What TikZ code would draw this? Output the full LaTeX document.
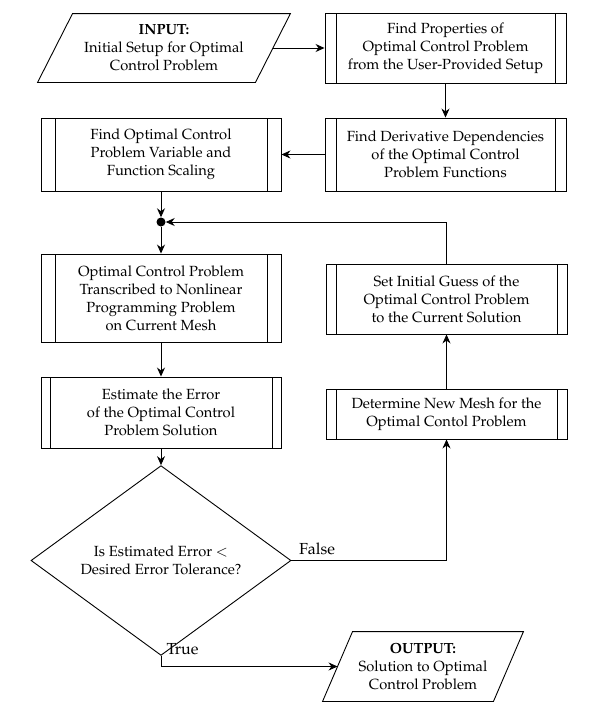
\documentclass[tikz,border=0pt]{standalone}
\usepackage[T1]{fontenc}
\usepackage{mathpazo}
\usetikzlibrary{arrows.meta,shapes.geometric,calc}
\tikzset{
  base/.style={font=\fontsize{14.7}{18}\selectfont, align=center, line width=0.9pt},
  procbox/.style n args={3}{base, draw, rectangle, inner sep=0pt,
    minimum width=#1, minimum height=#2,
    path picture={\draw[line width=0.9pt]
      ([xshift=#3]path picture bounding box.north west) -- ([xshift=#3]path picture bounding box.south west)
      ([xshift=-#3]path picture bounding box.north east) -- ([xshift=-#3]path picture bounding box.south east);}},
  iobox/.style n args={2}{base, rectangle, inner sep=0pt, minimum width=#1, minimum height=#2},
  decbox/.style={base, draw, diamond, inner sep=0pt, minimum width=260pt, minimum height=151pt},
  junct/.style={circle, fill, inner sep=0pt, minimum size=9pt},
  conn/.style={line width=0.9pt, -{Stealth[length=9pt,width=8pt]}},
  lbl/.style={font=\fontsize{16}{18}\selectfont, inner sep=0pt}
}
\begin{document}
\begin{tikzpicture}[x=1pt,y=-1pt]
\useasboundingbox (0,0) rectangle (590,710);
% input / output
\node[iobox={217pt}{68pt}] (in) at (164,48) {\textbf{INPUT:}\\Initial Setup for Optimal\\Control Problem};
\draw[line width=0.9pt] ([xshift=17.5pt]in.north west) -- ([xshift=17.5pt]in.north east)
  -- ([xshift=-17.5pt]in.south east) -- ([xshift=-17.5pt]in.south west) -- cycle;
\node[iobox={170pt}{69pt}] (out) at (423,666.5) {\textbf{OUTPUT:}\\Solution to Optimal\\Control Problem};
\draw[line width=0.9pt] ([xshift=15pt]out.north west) -- ([xshift=15pt]out.north east)
  -- ([xshift=-15pt]out.south east) -- ([xshift=-15pt]out.south west) -- cycle;
% process boxes
\node[procbox={241pt}{70pt}{11pt}] (props) at (445.5,48) {Find Properties of\\Optimal Control Problem\\from the User-Provided Setup};
\node[procbox={241pt}{73pt}{11pt}] (deriv) at (445.5,154.5) {Find Derivative Dependencies\\of the Optimal Control\\Problem Functions};
\node[procbox={240pt}{73pt}{14pt}] (scal) at (161,154.5) {Find Optimal Control\\Problem Variable and\\Function Scaling};
\node[junct] (j) at (161,222) {};
\node[procbox={240pt}{88pt}{14pt}] (trans) at (161,298) {Optimal Control Problem\\Transcribed to Nonlinear\\Programming Problem\\on Current Mesh};
\node[procbox={240pt}{71pt}{9pt}] (est) at (161,412.5) {Estimate the Error\\of the Optimal Control\\Problem Solution};
\node[procbox={241pt}{70pt}{10pt}] (guess) at (446.5,299) {Set Initial Guess of the\\Optimal Control Problem\\to the Current Solution};
\node[procbox={241pt}{50pt}{10pt}] (mesh) at (446.5,414) {Determine New Mesh for the\\Optimal Contol Problem};
\node[decbox] (dec) at (161,560.5) {Is Estimated Error $<$\\Desired Error Tolerance?};
% labels
\node[lbl] (lf) at (317,549) {False};
\node[lbl] (lt) at (182.5,649) {True};
% connectors
\draw[conn] (in.east) -- (props.west);
\draw[conn] (props.south) -- (deriv.north);
\draw[conn] (deriv.west) -- (scal.east);
\draw[conn] (scal.south) -- (j);
\draw[conn] (j) -- (trans.north);
\draw[conn] (trans.south) -- (est.north);
\draw[conn] (est.south) -- (dec.north);
\draw[conn] (dec.east) -| (mesh.south);
\draw[conn] (mesh.north) -- (guess.south);
\draw[conn] (guess.north) |- (j);
\draw[conn] (dec.south) |- (out.west);
\end{tikzpicture}
\end{document}
